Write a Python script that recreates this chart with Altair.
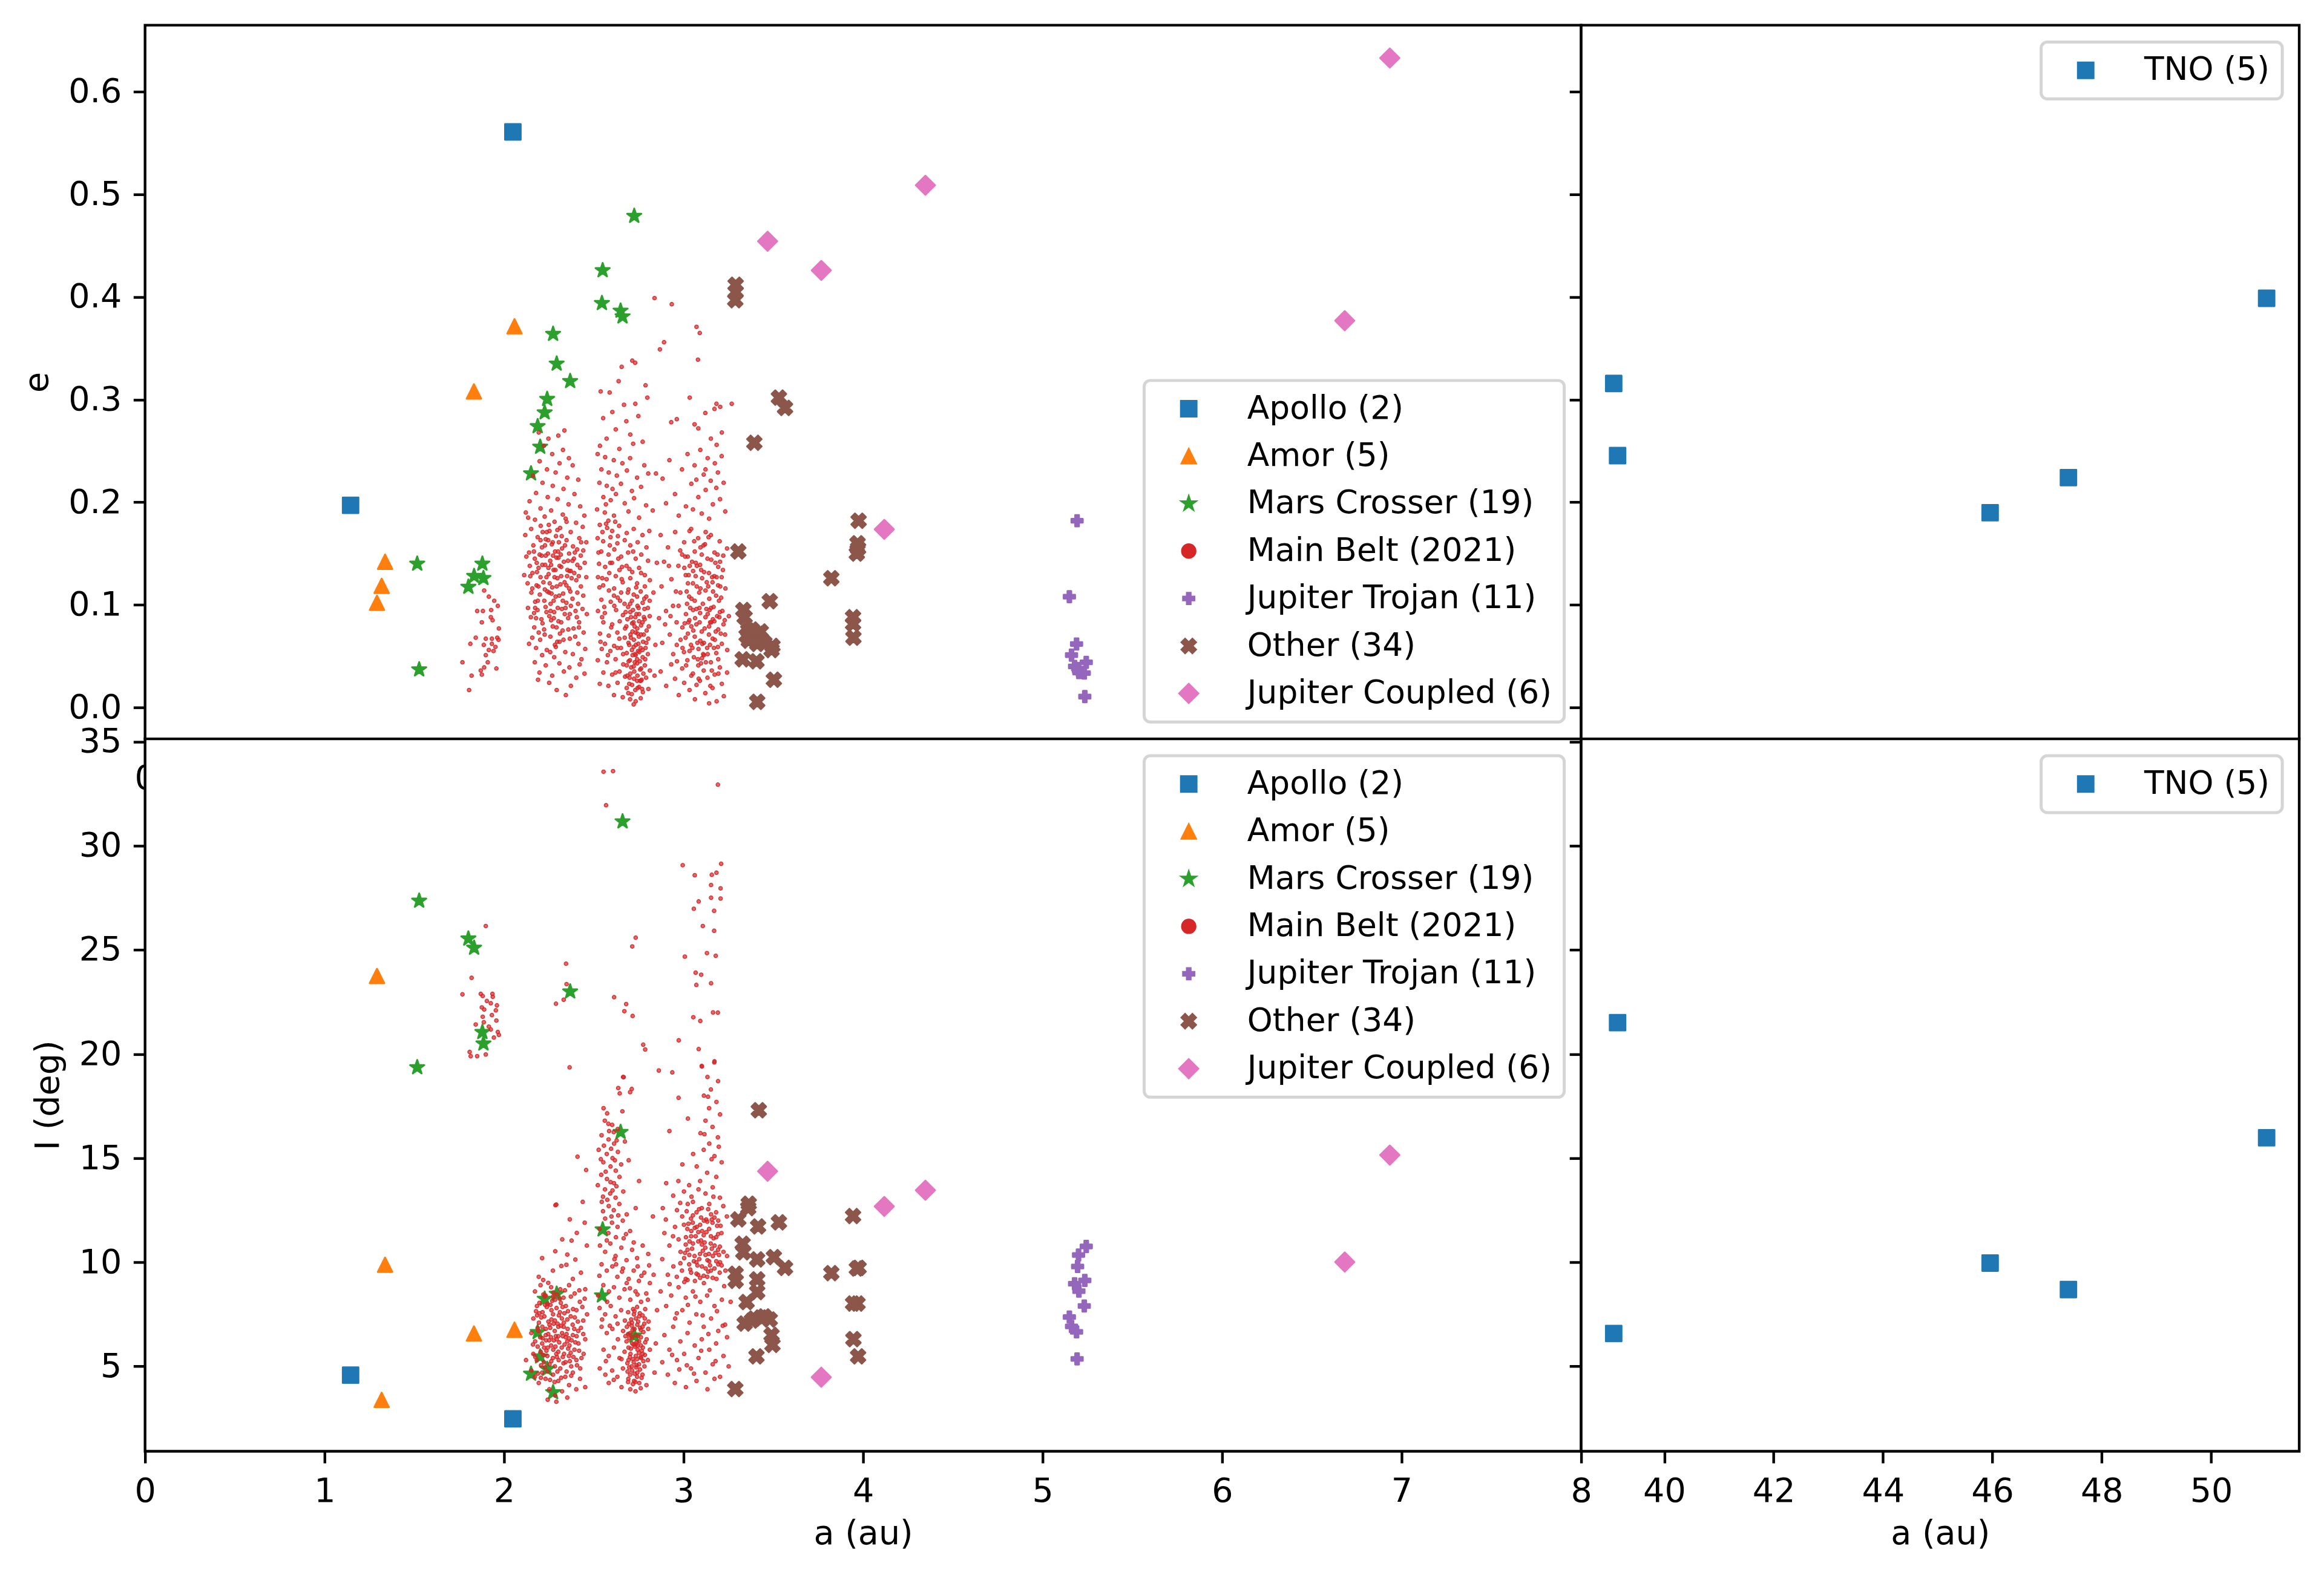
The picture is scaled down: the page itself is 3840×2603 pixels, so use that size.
import altair as alt
import pandas as pd

# ---------------------------------------------------------------- classes
INNER_CLASSES = ["Apollo (2)", "Amor (5)", "Mars Crosser (19)", "Main Belt (2021)",
                 "Jupiter Trojan (11)", "Other (34)", "Jupiter Coupled (6)"]
INNER_COLORS = ["#1f77b4", "#ff7f0e", "#2ca02c", "#d62728", "#9467bd", "#8c564b", "#e377c2"]
OUTER_CLASSES = ["TNO (5)"]
OUTER_COLORS = ["#1f77b4"]

# ---------------------------------------------------------------- orbital elements
apollo_a = [1.145, 2.049]
apollo_e = [0.197, 0.561]
apollo_i = [4.58, 2.48]

amor_a = [1.292, 1.318, 1.337, 1.832, 2.058]
amor_e = [0.102, 0.1185, 0.142, 0.308, 0.3715]
amor_i = [23.75, 3.39, 9.88, 6.58, 6.76]

mars_a = [1.516, 1.527, 1.801, 1.833, 1.879, 1.885, 2.150, 2.201, 2.187, 2.226,
          2.240, 2.368, 2.293, 2.273, 2.545, 2.549, 2.649, 2.660, 2.725]
mars_e = [0.140, 0.037, 0.1175, 0.128, 0.140, 0.126, 0.228, 0.254, 0.274, 0.2875,
          0.3006, 0.318, 0.335, 0.364, 0.394, 0.426, 0.3866, 0.381, 0.479]
mars_i = [19.36, 27.36, 25.54, 25.10, 21.05, 20.50, 4.64, 5.47, 6.64, 8.24,
          4.87, 23.00, 8.48, 3.75, 8.40, 11.57, 16.25, 31.17, 6.47]

trojan_a = [5.243, 5.235, 5.232, 5.200, 5.202, 5.195, 5.192, 5.189, 5.178, 5.161, 5.149]
trojan_e = [0.044, 0.0106, 0.0335, 0.0359, 0.034, 0.038, 0.182, 0.0618, 0.040, 0.051, 0.108]
trojan_i = [10.76, 9.13, 7.90, 10.35, 8.61, 9.80, 5.36, 6.66, 8.97, 6.92, 7.37]

other_a = [3.290, 3.290, 3.288, 3.305, 3.329, 3.333, 3.340, 3.351, 3.360, 3.363,
           3.394, 3.406, 3.410, 3.419, 3.415, 3.410, 3.410, 3.430, 3.480, 3.490,
           3.495, 3.503, 3.531, 3.565, 3.823, 3.975, 3.969, 3.972, 3.965, 3.944,
           3.944, 3.946, 3.380, 3.450]
other_e = [0.412, 0.405, 0.397, 0.152, 0.047, 0.095, 0.088, 0.070, 0.075, 0.065,
           0.258, 0.045, 0.0055, 0.068, 0.072, 0.062, 0.066, 0.074, 0.1036, 0.056,
           0.060, 0.027, 0.302, 0.292, 0.126, 0.182, 0.160, 0.155, 0.150, 0.088,
           0.0815, 0.068, 0.076, 0.063]
other_i = [9.45, 9.11, 3.91, 12.06, 10.89, 10.48, 7.06, 8.09, 12.60, 12.81,
           7.30, 5.48, 8.57, 17.30, 11.72, 10.14, 9.18, 7.35, 7.25, 6.51,
           6.03, 10.25, 11.92, 9.73, 9.48, 9.73, 8.02, 5.48, 9.70, 12.22,
           8.02, 6.31, 7.20, 7.40]

coupled_a = [3.468, 3.767, 4.118, 4.347, 6.683, 6.934]
coupled_e = [0.4544, 0.426, 0.1736, 0.509, 0.377, 0.633]
coupled_i = [14.37, 4.48, 12.68, 13.46, 10.01, 15.15]

tno_a = [39.075, 39.146, 45.958, 47.390, 51.014]
tno_e = [0.3158, 0.2455, 0.1898, 0.224, 0.3988]
tno_i = [6.58, 21.51, 9.96, 8.69, 15.98]

# main belt, semi-major axis vs eccentricity
belt_ae = [
    (1.889, .114), (1.915, .108), (1.945, .104), (1.965, .099), (1.850, .094), (1.882, .094),
    (1.928, .095), (1.926, .088), (1.936, .085), (1.876, .083), (1.971, .077), (1.842, .068),
    (1.812, .062), (1.898, .067), (1.932, .067), (1.962, .068), (1.969, .066), (1.887, .061),
    (1.932, .062), (1.952, .059), (1.915, .056), (1.941, .055), (1.898, .051), (1.768, .044),
    (1.909, .044), (1.870, .036), (1.889, .039), (1.957, .038), (1.876, .032), (1.819, .031),
    (1.805, .017),
    (2.193, .268), (2.247, .262), (2.302, .265), (2.336, .270), (2.221, .255), (2.328, .251),
    (2.268, .247), (2.361, .243), (2.198, .240), (2.309, .238), (2.382, .236), (2.239, .232),
    (2.287, .229), (2.161, .226), (2.352, .224), (2.413, .222), (2.214, .219), (2.271, .216),
    (2.331, .213), (2.178, .209), (2.392, .208), (2.243, .205), (2.298, .203), (2.142, .201),
    (2.359, .198), (2.424, .196), (2.203, .194), (2.262, .192), (2.121, .190), (2.327, .188),
    (2.447, .187), (2.134, .185), (2.172, .183), (2.226, .186), (2.281, .181), (2.343, .184),
    (2.401, .180), (2.438, .176), (2.151, .174), (2.204, .177), (2.253, .172), (2.312, .175),
    (2.371, .171), (2.118, .168), (2.187, .166), (2.232, .164), (2.289, .167), (2.348, .163),
    (2.419, .165), (2.458, .161), (2.163, .158), (2.211, .156), (2.266, .159), (2.323, .155),
    (2.384, .157), (2.441, .153), (2.139, .151), (2.244, .150), (2.301, .152), (2.362, .150),
    (2.407, .154), (2.124, .147), (2.171, .145), (2.209, .148), (2.257, .143), (2.292, .146),
    (2.333, .142), (2.389, .145), (2.449, .141), (2.143, .138), (2.192, .136), (2.229, .139),
    (2.276, .134), (2.318, .137), (2.371, .133), (2.423, .136), (2.112, .129), (2.158, .131),
    (2.203, .127), (2.248, .130), (2.297, .126), (2.351, .128), (2.402, .124), (2.458, .127),
    (2.131, .121), (2.181, .119), (2.219, .122), (2.268, .117), (2.314, .120), (2.362, .116),
    (2.428, .118), (2.152, .112), (2.199, .110), (2.241, .113), (2.287, .108), (2.329, .111),
    (2.381, .106), (2.441, .109), (2.173, .103), (2.259, .101), (2.347, .102), (2.133, .097),
    (2.186, .095), (2.231, .098), (2.279, .093), (2.322, .096), (2.398, .094), (2.461, .091),
    (2.149, .088), (2.208, .086), (2.252, .089), (2.303, .084), (2.357, .087), (2.418, .083),
    (2.168, .078), (2.223, .076), (2.271, .079), (2.326, .075), (2.387, .077), (2.443, .073),
    (2.157, .068), (2.201, .066), (2.258, .069), (2.309, .064), (2.366, .067), (2.414, .062),
    (2.178, .058), (2.238, .056), (2.288, .059), (2.341, .054), (2.452, .057), (2.212, .051),
    (2.279, .049), (2.383, .052), (2.139, .062), (2.431, .047), (2.171, .044), (2.232, .041),
    (2.308, .043), (2.364, .039), (2.421, .042), (2.197, .034), (2.268, .031), (2.333, .035),
    (2.402, .029), (2.251, .024), (2.372, .021), (2.448, .033), (2.293, .017), (2.189, .027),
    (2.344, .012), (2.215, .171), (2.262, .139), (2.305, .161), (2.347, .119), (2.236, .093),
    (2.284, .152), (2.318, .128), (2.276, .104), (2.227, .115), (2.356, .143), (2.198, .149),
    (2.338, .091), (2.249, .178), (2.293, .118), (2.372, .099), (2.183, .132), (2.262, .085),
    (2.311, .072), (2.228, .158), (2.391, .131), (2.254, .121), (2.307, .109), (2.167, .092),
    (2.412, .101), (2.286, .134),
    (2.182, .141), (2.236, .127), (2.297, .173), (2.353, .134), (2.408, .112), (2.173, .097),
    (2.264, .111), (2.318, .083), (2.376, .126), (2.214, .082), (2.339, .158), (2.283, .061),
    (2.396, .069), (2.157, .116), (2.246, .163), (2.309, .138), (2.366, .091), (2.224, .104),
    (2.273, .148), (2.427, .148), (2.193, .073), (2.257, .054), (2.331, .066), (2.417, .078),
    (2.299, .097),
    (2.166, .152), (2.191, .118), (2.213, .139), (2.238, .171), (2.259, .094), (2.281, .127),
    (2.303, .146), (2.327, .104), (2.348, .181), (2.369, .113), (2.394, .151), (2.416, .128),
    (2.437, .096), (2.178, .087), (2.203, .163), (2.226, .071), (2.247, .136), (2.271, .161),
    (2.292, .078), (2.316, .149), (2.337, .122), (2.358, .076), (2.381, .143), (2.405, .088),
    (2.429, .161), (2.146, .128), (2.188, .104), (2.232, .148), (2.277, .087), (2.321, .167),
    (2.364, .133), (2.408, .139), (2.251, .112), (2.296, .064), (2.342, .097),
    (2.588, .307), (2.638, .318), (2.655, .332), (2.714, .338), (2.730, .336), (2.668, .295),
    (2.731, .296), (2.788, .314), (2.798, .302), (2.538, .308), (2.552, .282), (2.603, .288),
    (2.681, .279), (2.748, .284), (2.622, .271), (2.703, .266), (2.571, .262), (2.772, .259),
    (2.534, .255), (2.642, .252), (2.719, .257), (2.521, .247), (2.563, .244), (2.611, .241),
    (2.659, .238), (2.702, .243), (2.781, .236), (2.542, .232), (2.583, .229), (2.628, .226),
    (2.684, .231), (2.741, .224), (2.803, .228), (2.531, .219), (2.572, .216), (2.604, .213),
    (2.651, .218), (2.712, .211), (2.763, .215), (2.553, .205), (2.594, .202), (2.623, .208),
    (2.672, .199), (2.724, .204), (2.791, .197), (2.518, .193), (2.561, .190), (2.612, .187),
    (2.693, .191), (2.752, .185), (2.581, .182), (2.533, .178), (2.574, .175), (2.602, .172),
    (2.641, .177), (2.683, .170), (2.722, .174), (2.771, .168), (2.809, .172), (2.521, .165),
    (2.552, .162), (2.593, .166), (2.631, .160), (2.672, .163), (2.703, .158), (2.744, .161),
    (2.793, .156), (2.541, .152), (2.582, .149), (2.614, .154), (2.652, .147), (2.691, .151),
    (2.733, .145), (2.764, .149), (2.802, .143), (2.529, .140), (2.563, .137), (2.601, .141),
    (2.643, .134), (2.682, .138), (2.714, .132), (2.752, .136), (2.784, .129), (2.523, .127),
    (2.571, .125), (2.622, .128), (2.661, .122), (2.703, .126), (2.741, .121), (2.552, .119),
    (2.812, .124), (2.531, .117), (2.584, .114), (2.613, .116), (2.652, .112), (2.693, .115),
    (2.722, .110), (2.761, .113), (2.792, .108), (2.542, .105), (2.594, .103), (2.633, .107),
    (2.671, .101), (2.712, .104), (2.743, .099), (2.772, .102), (2.801, .097), (2.523, .094),
    (2.561, .092), (2.624, .095), (2.662, .090), (2.703, .093), (2.731, .088), (2.752, .091),
    (2.783, .086), (2.811, .089), (2.553, .083), (2.602, .081), (2.644, .084), (2.681, .079),
    (2.713, .082), (2.742, .077), (2.763, .080), (2.794, .075), (2.534, .072), (2.583, .070),
    (2.631, .073), (2.672, .068), (2.704, .071), (2.723, .066), (2.751, .069), (2.774, .064),
    (2.803, .067), (2.562, .062), (2.613, .060), (2.693, .063), (2.734, .061), (2.715, .074),
    (2.744, .072), (2.761, .058), (2.782, .096), (2.544, .057), (2.592, .055), (2.651, .058),
    (2.683, .053), (2.712, .056), (2.733, .051), (2.753, .054), (2.772, .049), (2.801, .052),
    (2.522, .046), (2.573, .044), (2.621, .047), (2.664, .042), (2.694, .045), (2.722, .040),
    (2.741, .043), (2.763, .038), (2.784, .041), (2.812, .036), (2.553, .034), (2.602, .032),
    (2.643, .035), (2.674, .030), (2.703, .033), (2.724, .028), (2.743, .031), (2.762, .026),
    (2.791, .029), (2.533, .023), (2.581, .021), (2.632, .024), (2.683, .019), (2.713, .022),
    (2.731, .017), (2.752, .020), (2.773, .015), (2.804, .018), (2.612, .012), (2.661, .010),
    (2.702, .008), (2.733, .006), (2.761, .009), (2.722, .003), (2.692, .014), (2.741, .047),
    (2.697, .061), (2.727, .079), (2.756, .045), (2.778, .071), (2.708, .039), (2.738, .091),
    (2.766, .027), (2.716, .051), (2.748, .062), (2.788, .058), (2.687, .086), (2.725, .035),
    (2.771, .083), (2.702, .101), (2.744, .019), (2.619, .181), (2.567, .198), (2.589, .158),
    (2.636, .145), (2.548, .171),
    (2.683, .041), (2.706, .068), (2.729, .052), (2.752, .084), (2.776, .033), (2.697, .023),
    (2.718, .095), (2.741, .026), (2.763, .071), (2.786, .047), (2.674, .077), (2.711, .013),
    (2.733, .073), (2.758, .037), (2.781, .106), (2.691, .098), (2.746, .055), (2.769, .018),
    (2.722, .059), (2.701, .046), (2.586, .131), (2.614, .099), (2.546, .088), (2.632, .058),
    (2.657, .137),
    (2.526, .151), (2.547, .126), (2.568, .179), (2.591, .141), (2.612, .109), (2.634, .167),
    (2.655, .125), (2.677, .093), (2.698, .135), (2.719, .152), (2.741, .108), (2.763, .131),
    (2.784, .118), (2.806, .079), (2.558, .098), (2.597, .078), (2.621, .034), (2.642, .067),
    (2.663, .052), (2.686, .031), (2.707, .088), (2.728, .044), (2.749, .097), (2.771, .056),
    (2.792, .063), (2.811, .104), (2.537, .064), (2.578, .051), (2.646, .104), (2.689, .112),
    (2.736, .117), (2.757, .026), (2.779, .088), (2.699, .029), (2.721, .083),
    (2.832, .112), (2.843, .061), (2.828, .192), (2.851, .141), (2.838, .031), (2.846, .228),
    (2.931, .278), (2.962, .281), (3.061, .276), (3.082, .272), (3.121, .287), (3.172, .291),
    (3.183, .296), (3.204, .293), (3.034, .302), (3.268, .296), (3.152, .262), (3.213, .268),
    (2.883, .223), (2.921, .241), (2.952, .208), (2.991, .232), (3.022, .247), (3.043, .218),
    (3.061, .236), (3.082, .205), (3.093, .251), (3.112, .227), (3.123, .212), (3.134, .243),
    (3.151, .221), (3.163, .198), (3.174, .238), (3.182, .214), (3.191, .229), (3.203, .203),
    (3.212, .245), (3.223, .219), (3.101, .189), (3.142, .184), (3.052, .193), (2.973, .187),
    (3.013, .196), (3.232, .191), (2.902, .199), (3.184, .256), (3.071, .222), (3.122, .232),
    (2.872, .168), (2.891, .142), (2.913, .156), (2.932, .125), (2.953, .171), (2.971, .138),
    (2.982, .112), (3.003, .161), (3.012, .129), (3.023, .147), (3.031, .108), (3.042, .174),
    (3.053, .133), (3.062, .152), (3.073, .118), (3.081, .165), (3.092, .139), (3.103, .126),
    (3.111, .158), (3.122, .114), (3.133, .145), (3.141, .131), (3.152, .168), (3.161, .122),
    (3.172, .151), (3.181, .109), (3.193, .137), (3.201, .162), (3.212, .127), (3.221, .148),
    (3.233, .116), (3.242, .155), (2.992, .149), (3.033, .172), (3.062, .104), (3.094, .156),
    (3.123, .171), (3.143, .106), (3.171, .128), (3.203, .142), (3.154, .144), (3.101, .149),
    (3.052, .121), (3.004, .136), (3.192, .119), (2.863, .087), (2.881, .063), (2.902, .094),
    (2.923, .071), (2.942, .052), (2.961, .083), (2.972, .099), (2.983, .066), (2.993, .078),
    (3.002, .054), (3.013, .091), (3.024, .072), (3.032, .085), (3.041, .061), (3.053, .095),
    (3.062, .069), (3.071, .081), (3.083, .057), (3.092, .092), (3.101, .074), (3.113, .063),
    (3.122, .088), (3.131, .058), (3.142, .079), (3.153, .097), (3.162, .067), (3.171, .084),
    (3.182, .053), (3.193, .076), (3.202, .093), (3.213, .062), (3.222, .081), (3.231, .071),
    (3.243, .056), (3.252, .089), (3.011, .068), (3.043, .079), (3.072, .096), (3.113, .051),
    (3.134, .091), (3.163, .086), (3.191, .059), (3.033, .055), (3.093, .065), (3.141, .071),
    (2.872, .035), (2.903, .021), (2.931, .042), (2.952, .028), (2.973, .012), (2.992, .038),
    (3.003, .024), (3.021, .046), (3.033, .017), (3.052, .033), (3.063, .008), (3.082, .041),
    (3.091, .026), (3.112, .036), (3.121, .014), (3.133, .029), (3.152, .044), (3.161, .019),
    (3.173, .032), (3.184, .006), (3.202, .039), (3.213, .023), (3.224, .011), (3.242, .034),
    (3.193, .047), (3.102, .048), (3.043, .031), (2.963, .045), (3.142, .004), (3.072, .022),
    (3.017, .113), (3.047, .142), (3.077, .063), (3.107, .101), (3.137, .118), (3.167, .098),
    (3.197, .104), (3.027, .083), (3.057, .049), (3.087, .112), (3.117, .077), (3.147, .061),
    (3.177, .141), (3.207, .072), (3.067, .128), (3.127, .096), (3.187, .089), (3.157, .036),
    (3.097, .043), (3.037, .097),
    (3.014, .041), (3.044, .106), (3.074, .138), (3.104, .062), (3.134, .052), (3.164, .113),
    (3.194, .033), (3.024, .121), (3.054, .075), (3.084, .028), (3.114, .132), (3.144, .095),
    (3.174, .066), (3.204, .118), (3.034, .138), (3.064, .087), (3.094, .116), (3.124, .044),
    (3.154, .083), (3.184, .127), (3.216, .094), (2.994, .058), (3.119, .159), (3.089, .083),
    (3.149, .021),
    (2.877, .118), (2.897, .081), (2.918, .138), (2.941, .099), (2.962, .061), (2.981, .153),
    (3.006, .082), (3.028, .129), (3.049, .058), (3.068, .141), (3.088, .097), (3.109, .052),
    (3.129, .122), (3.148, .083), (3.169, .058), (3.189, .149), (3.209, .107), (3.229, .085),
    (3.019, .101), (3.059, .162), (3.098, .134), (3.139, .166), (3.179, .074), (3.219, .134),
    (2.927, .089), (2.957, .113), (3.009, .147), (3.079, .047), (3.159, .127), (3.199, .088),
    (2.838, .399), (2.934, .393), (3.072, .371), (2.891, .356), (3.080, .339), (2.868, .349),
    (3.090, .365), (3.290, .394),
]

# main belt, semi-major axis vs inclination (deg)
belt_ai = [
    (1.898, 26.15), (1.819, 23.66), (1.768, 22.87), (1.870, 22.89), (1.881, 22.79), (1.935, 22.89),
    (1.937, 22.75), (1.904, 22.55), (1.926, 22.44), (1.960, 22.34), (1.876, 22.24), (1.889, 22.14),
    (1.954, 22.10), (1.881, 21.79), (1.932, 21.87), (1.957, 21.61), (1.842, 21.42), (1.887, 21.53),
    (1.915, 21.32), (1.926, 21.18), (1.965, 21.06), (1.971, 20.92), (1.943, 20.79), (1.808, 20.10),
    (1.814, 19.90), (1.850, 19.90), (1.898, 19.98),
    (2.554, 33.56), (2.607, 33.59), (2.568, 31.95), (3.191, 32.94), (2.345, 24.34), (2.348, 23.36),
    (2.289, 22.42), (2.332, 22.61), (2.365, 19.36), (2.733, 25.59), (2.714, 25.17), (2.613, 22.73),
    (2.680, 22.40), (2.670, 22.06), (2.716, 21.83), (2.775, 20.45), (2.786, 20.22), (2.862, 19.21),
    (2.937, 19.12), (2.973, 20.66), (2.995, 29.07), (3.062, 28.59), (3.157, 28.61), (3.183, 28.71),
    (3.209, 29.14), (3.153, 28.12), (3.206, 27.96), (3.153, 27.51), (3.206, 27.47), (3.084, 27.33),
    (3.057, 26.98), (3.170, 26.88), (3.107, 26.15), (3.170, 25.92), (3.007, 24.68), (3.130, 24.85),
    (3.179, 24.72), (3.067, 23.91), (3.098, 23.81), (3.071, 23.32), (3.153, 23.40), (3.054, 21.77),
    (3.093, 21.59), (3.164, 22.00), (3.191, 21.99), (3.084, 20.24), (3.172, 19.65), (3.101, 19.43),
    (2.663, 18.90), (2.636, 18.37), (2.702, 18.17), (2.409, 15.07), (2.457, 14.43), (2.286, 12.74),
    (2.291, 12.77), (2.366, 12.06), (2.405, 11.41), (2.324, 11.10), (2.285, 10.53), (2.352, 10.37),
    (2.397, 10.13), (2.376, 11.04), (2.347, 9.88), (2.218, 9.15), (2.246, 9.01), (2.319, 9.82),
    (2.438, 12.90), (2.461, 10.80), (2.428, 9.50), (2.272, 9.60), (2.193, 9.30), (2.383, 9.20),
    (2.449, 11.90), (2.212, 10.20),
    (2.172, 8.6), (2.203, 8.9), (2.231, 8.4), (2.262, 8.8), (2.284, 8.2), (2.313, 8.7),
    (2.331, 8.3), (2.362, 8.9), (2.393, 8.5), (2.422, 8.1), (2.452, 8.7), (2.183, 7.9),
    (2.214, 7.6), (2.241, 8.0), (2.273, 7.5), (2.292, 7.8), (2.322, 7.3), (2.344, 7.9),
    (2.371, 7.4), (2.403, 7.7), (2.441, 7.2), (2.163, 7.3), (2.194, 7.1), (2.224, 7.4),
    (2.253, 7.0), (2.283, 7.2), (2.302, 6.9), (2.333, 7.1), (2.354, 6.8), (2.382, 7.0),
    (2.413, 6.7), (2.462, 7.5), (2.232, 6.8), (2.264, 7.7), (2.311, 7.6),
    (2.152, 6.6), (2.173, 6.2), (2.191, 6.7), (2.212, 6.1), (2.232, 6.5), (2.243, 5.9),
    (2.261, 6.4), (2.274, 5.8), (2.293, 6.3), (2.302, 5.7), (2.323, 6.6), (2.334, 5.6),
    (2.352, 6.2), (2.361, 5.5), (2.383, 6.5), (2.392, 5.8), (2.414, 6.1), (2.431, 5.4),
    (2.452, 6.3), (2.163, 5.6), (2.182, 5.3), (2.204, 5.7), (2.222, 5.2), (2.241, 5.5),
    (2.253, 5.1), (2.272, 5.4), (2.283, 5.0), (2.304, 5.3), (2.313, 4.9), (2.342, 5.2),
    (2.374, 5.0), (2.403, 5.3), (2.424, 4.9), (2.443, 5.6), (2.201, 6.4), (2.223, 5.9),
    (2.262, 6.0), (2.291, 5.6), (2.321, 5.9), (2.343, 6.4), (2.364, 6.0), (2.391, 6.8),
    (2.213, 6.9), (2.282, 6.7), (2.332, 6.9),
    (2.152, 4.8), (2.171, 4.5), (2.193, 4.2), (2.212, 4.7), (2.231, 4.4), (2.252, 3.9),
    (2.273, 4.6), (2.284, 3.6), (2.302, 4.3), (2.323, 3.8), (2.341, 4.5), (2.362, 4.1),
    (2.383, 4.7), (2.402, 3.9), (2.423, 4.4), (2.452, 4.0), (2.243, 3.4), (2.291, 3.3),
    (2.352, 3.5), (2.122, 5.3),
    (2.207, 7.35), (2.246, 6.55), (2.268, 8.15), (2.298, 7.05), (2.327, 5.45), (2.356, 7.65),
    (2.187, 5.95), (2.238, 7.85), (2.277, 6.25), (2.316, 8.05), (2.348, 6.55), (2.228, 4.95),
    (2.257, 6.85), (2.297, 4.75), (2.366, 5.25), (2.197, 8.05), (2.336, 7.55), (2.376, 6.25),
    (2.218, 5.55), (2.307, 6.15),
    (2.187, 6.85), (2.226, 8.35), (2.263, 5.25), (2.296, 8.45), (2.337, 6.05), (2.372, 8.35),
    (2.404, 6.45), (2.436, 7.85), (2.205, 4.45), (2.247, 7.15), (2.288, 6.45), (2.318, 4.45),
    (2.357, 5.85), (2.394, 7.35), (2.178, 7.65), (2.236, 5.75), (2.276, 7.05), (2.326, 7.85),
    (2.348, 4.75), (2.418, 5.75), (2.256, 4.35), (2.305, 7.45), (2.214, 6.35), (2.386, 5.45),
    (2.276, 8.55),
    (2.161, 6.05), (2.184, 7.45), (2.206, 5.05), (2.229, 7.95), (2.251, 6.25), (2.273, 8.35),
    (2.294, 5.45), (2.317, 6.95), (2.339, 8.65), (2.361, 6.35), (2.384, 7.75), (2.406, 5.05),
    (2.428, 6.85), (2.449, 8.25), (2.174, 5.45), (2.197, 7.55), (2.219, 8.45), (2.242, 4.75),
    (2.264, 7.25), (2.286, 5.95), (2.309, 8.25), (2.331, 5.15), (2.352, 7.25), (2.374, 4.55),
    (2.397, 6.15), (2.419, 8.65), (2.441, 6.55), (2.188, 4.65), (2.234, 6.25), (2.281, 4.25),
    (2.327, 6.45), (2.371, 5.65), (2.411, 7.15), (2.258, 7.95), (2.302, 6.45),
    (2.554, 17.40), (2.574, 17.15), (2.644, 18.11), (2.666, 18.89), (2.711, 18.32), (2.561, 16.8),
    (2.602, 16.6), (2.633, 16.4), (2.543, 16.1), (2.582, 15.9), (2.613, 15.7), (2.527, 15.4),
    (2.572, 15.2), (2.604, 15.0), (2.634, 15.3), (2.553, 14.8), (2.593, 14.6), (2.622, 14.4),
    (2.652, 14.7), (2.541, 14.2), (2.573, 14.0), (2.612, 13.8), (2.643, 14.1), (2.562, 13.5),
    (2.591, 13.3), (2.621, 13.1), (2.664, 13.4), (2.544, 12.9), (2.583, 12.7), (2.611, 12.5),
    (2.642, 12.8), (2.683, 12.3), (2.563, 12.1), (2.601, 11.9), (2.632, 11.7), (2.661, 12.0),
    (2.532, 11.6), (2.581, 11.4), (2.623, 11.2), (2.702, 11.5), (2.733, 12.6), (2.752, 13.9),
    (2.694, 14.9), (2.673, 15.8), (2.522, 13.7), (2.585, 16.3), (2.556, 15.6), (2.617, 14.9),
    (2.575, 13.0), (2.598, 12.2),
    (2.534, 10.8), (2.563, 10.5), (2.592, 10.9), (2.621, 10.3), (2.653, 10.7), (2.682, 10.1),
    (2.713, 10.6), (2.741, 10.2), (2.772, 10.8), (2.803, 10.4), (2.543, 9.9), (2.572, 9.6),
    (2.603, 9.8), (2.631, 9.3), (2.662, 9.7), (2.694, 9.2), (2.722, 9.6), (2.751, 9.1),
    (2.781, 9.5), (2.812, 9.0), (2.553, 8.9), (2.584, 8.6), (2.612, 8.8), (2.642, 8.3),
    (2.671, 8.7), (2.703, 8.2), (2.732, 8.6), (2.763, 8.1), (2.792, 8.5), (2.524, 8.4),
    (2.624, 9.9), (2.683, 9.0), (2.744, 9.8), (2.801, 8.2), (2.574, 8.1),
    (2.532, 7.8), (2.563, 7.5), (2.594, 7.9), (2.621, 7.4), (2.652, 7.7), (2.673, 7.2),
    (2.691, 7.6), (2.712, 7.1), (2.723, 7.5), (2.742, 7.0), (2.753, 7.4), (2.771, 6.9),
    (2.784, 7.3), (2.803, 6.8), (2.543, 6.9), (2.572, 6.6), (2.603, 6.8), (2.634, 6.3),
    (2.663, 6.7), (2.682, 6.2), (2.702, 6.6), (2.714, 6.1), (2.733, 6.5), (2.744, 6.0),
    (2.762, 6.4), (2.773, 5.9), (2.794, 6.3), (2.812, 5.8), (2.554, 5.8), (2.583, 5.5),
    (2.612, 5.9), (2.643, 5.4), (2.671, 5.7), (2.693, 5.3), (2.704, 5.6), (2.722, 5.2),
    (2.734, 5.5), (2.751, 5.1), (2.763, 5.4), (2.782, 5.0), (2.801, 5.3), (2.533, 4.9),
    (2.564, 4.6), (2.602, 4.8), (2.631, 4.5), (2.662, 4.9), (2.692, 4.4), (2.713, 4.8),
    (2.724, 4.3), (2.742, 4.7), (2.753, 4.2), (2.771, 4.6), (2.793, 4.1), (2.583, 4.2),
    (2.654, 4.0), (2.703, 3.9), (2.732, 3.8), (2.761, 3.95), (2.684, 6.9), (2.726, 6.8),
    (2.744, 5.8), (2.711, 5.0), (2.762, 6.0), (2.693, 5.9), (2.734, 7.3), (2.752, 6.2),
    (2.702, 4.6), (2.772, 5.6), (2.741, 4.5), (2.713, 6.4),
    (2.698, 6.35), (2.717, 5.35), (2.737, 6.15), (2.757, 4.85), (2.776, 6.65), (2.687, 5.15),
    (2.727, 4.65), (2.747, 7.15), (2.767, 5.75), (2.708, 7.25), (2.728, 5.95), (2.718, 4.15),
    (2.758, 6.85), (2.688, 4.75), (2.738, 5.05),
    (2.696, 7.05), (2.716, 6.75), (2.736, 4.95), (2.756, 7.55), (2.776, 5.25), (2.706, 5.85),
    (2.726, 7.65), (2.746, 6.45), (2.766, 4.45), (2.786, 6.15), (2.691, 4.25), (2.721, 6.05),
    (2.741, 7.85), (2.761, 5.45), (2.781, 7.05), (2.701, 5.45), (2.731, 4.25), (2.751, 5.65),
    (2.771, 7.45), (2.711, 6.95), (2.566, 14.35), (2.596, 15.45), (2.626, 13.65), (2.551, 13.15),
    (2.611, 16.25),
    (2.531, 9.35), (2.551, 12.45), (2.572, 11.05), (2.593, 13.85), (2.615, 10.15), (2.636, 12.25),
    (2.657, 9.55), (2.679, 11.35), (2.701, 8.75), (2.722, 10.95), (2.743, 8.45), (2.765, 9.35),
    (2.786, 7.75), (2.808, 9.85), (2.546, 7.25), (2.567, 5.25), (2.589, 6.95), (2.611, 4.35),
    (2.632, 7.05), (2.654, 5.35), (2.676, 6.45), (2.697, 4.95), (2.719, 7.75), (2.741, 5.35),
    (2.762, 6.75), (2.784, 5.55), (2.805, 7.15), (2.539, 14.95), (2.581, 16.65), (2.627, 15.85),
    (2.659, 17.25), (2.604, 13.45), (2.666, 11.15), (2.691, 6.55), (2.733, 6.05),
    (2.833, 9.4), (2.845, 6.1), (2.829, 12.2), (2.852, 7.7), (2.838, 4.7),
    (3.102, 19.4), (3.171, 19.6), (3.133, 18.9), (3.192, 18.7), (3.152, 18.3), (3.113, 18.0),
    (3.183, 17.7), (3.142, 17.4), (3.203, 17.1), (3.122, 16.8), (3.161, 16.5), (3.094, 16.2),
    (3.191, 16.0), (3.143, 15.7), (3.112, 15.4), (3.172, 15.1), (3.212, 14.8), (3.073, 14.6),
    (3.131, 14.3), (3.182, 14.1), (2.972, 17.9), (3.024, 16.9), (2.921, 16.3), (3.053, 15.2),
    (2.993, 14.7),
    (2.903, 13.8), (2.942, 13.2), (2.971, 13.9), (3.002, 13.4), (3.031, 13.7), (3.052, 12.9),
    (3.083, 13.5), (3.101, 12.6), (3.122, 13.3), (3.143, 12.8), (3.162, 13.6), (3.181, 12.4),
    (3.202, 13.1), (3.221, 12.7), (2.963, 12.5), (2.992, 12.2), (3.023, 12.8), (3.041, 12.1),
    (3.072, 12.4), (3.113, 12.0), (3.153, 12.3), (3.193, 12.0), (2.884, 12.6), (3.241, 12.2),
    (3.092, 13.9),
    (2.893, 11.4), (2.921, 10.8), (2.952, 11.7), (2.972, 11.1), (2.983, 10.5), (3.002, 11.8),
    (3.013, 11.2), (3.022, 10.6), (3.031, 9.9), (3.043, 11.5), (3.052, 10.9), (3.061, 10.3),
    (3.073, 11.7), (3.082, 11.0), (3.091, 10.4), (3.102, 9.8), (3.112, 11.3), (3.121, 10.7),
    (3.133, 10.1), (3.142, 11.6), (3.151, 10.9), (3.163, 10.3), (3.172, 9.7), (3.181, 11.2),
    (3.192, 10.6), (3.203, 10.0), (3.211, 11.4), (3.222, 10.5), (3.233, 9.6), (2.943, 9.8),
    (2.962, 9.3), (2.991, 9.6), (3.012, 9.2), (3.042, 9.5), (3.063, 9.1), (3.081, 9.4),
    (3.113, 9.0), (3.132, 9.3), (3.152, 9.6), (3.183, 9.2), (3.201, 9.5), (3.242, 10.3),
    (2.912, 9.4), (3.003, 10.2), (3.033, 11.0), (3.071, 10.0), (3.103, 11.5), (3.123, 9.7),
    (3.141, 10.4), (3.173, 10.8), (3.193, 9.9), (3.051, 11.9), (3.092, 11.8), (3.161, 11.9),
    (3.021, 11.6),
    (2.872, 8.6), (2.903, 7.9), (2.931, 8.4), (2.953, 7.3), (2.972, 8.8), (2.993, 7.7),
    (3.012, 8.3), (3.033, 7.1), (3.052, 8.6), (3.071, 7.5), (3.093, 8.1), (3.112, 6.9),
    (3.131, 8.4), (3.153, 7.3), (3.172, 7.9), (3.193, 6.7), (3.213, 8.2), (3.231, 7.0),
    (2.893, 6.5), (2.921, 5.8), (2.942, 6.9), (2.963, 5.3), (2.982, 6.2), (3.003, 5.6),
    (3.022, 6.6), (3.041, 4.9), (3.062, 6.0), (3.083, 5.4), (3.101, 6.3), (3.122, 4.7),
    (3.143, 5.8), (3.162, 5.1), (3.181, 6.1), (3.203, 4.5), (3.222, 5.5), (3.242, 6.4),
    (2.912, 4.6), (2.951, 4.2), (3.013, 4.0), (3.072, 4.3), (3.133, 3.9), (3.172, 4.4),
    (2.881, 5.2), (3.262, 8.1), (3.251, 5.0),
    (3.008, 10.45), (3.037, 9.65), (3.067, 11.25), (3.087, 10.15), (3.117, 10.95), (3.147, 9.85),
    (3.177, 10.45), (3.027, 11.85), (3.057, 10.05), (3.097, 12.15), (3.127, 11.45), (3.157, 12.05),
    (3.187, 11.75), (3.047, 10.65), (3.077, 9.85), (3.107, 10.55), (3.137, 9.55), (3.167, 11.15),
    (3.197, 10.35), (3.017, 12.45),
    (3.012, 10.85), (3.042, 11.25), (3.072, 9.45), (3.102, 10.85), (3.132, 11.95), (3.162, 9.25),
    (3.192, 11.35), (3.022, 9.15), (3.052, 12.25), (3.082, 11.45), (3.112, 9.35), (3.142, 10.05),
    (3.172, 12.15), (3.202, 10.75), (3.032, 10.35), (3.062, 11.65), (3.092, 9.25), (3.122, 10.35),
    (3.152, 11.25), (3.182, 10.05), (3.212, 9.85), (2.982, 9.95), (3.137, 12.55), (3.097, 11.05),
    (3.157, 10.65),
    (2.881, 10.15), (2.901, 12.05), (2.922, 8.95), (2.941, 11.25), (2.962, 7.55), (2.981, 12.85),
    (3.004, 9.05), (3.024, 7.95), (3.044, 13.15), (3.066, 8.35), (3.086, 12.55), (3.106, 7.45),
    (3.126, 12.05), (3.146, 8.65), (3.166, 13.15), (3.186, 7.65), (3.206, 11.75), (3.226, 8.85),
    (3.018, 5.05), (3.058, 4.65), (3.098, 5.75), (3.138, 6.55), (3.178, 5.25), (3.218, 6.95),
    (2.936, 5.55), (2.976, 4.85), (3.116, 16.15), (3.156, 14.95), (3.196, 15.55), (3.136, 17.95),
]

# ---------------------------------------------------------------- marker shapes (unit box)
# each marker also gets a thin edge of its own colour, so the paths sit a bit inside
SQUARE = "M-0.733,-0.733H0.733V0.733H-0.733Z"
TRIANGLE = "M0,-0.68L0.68,0.68L-0.68,0.68Z"
STAR = ("M0,-0.7L0.158,-0.217L0.666,-0.216L0.255,0.083L0.411,0.566L0,0.268"
        "L-0.411,0.566L-0.255,0.083L-0.666,-0.216L-0.158,-0.217Z")
CIRCLE = "M0.633,0A0.633,0.633,0,1,1,-0.633,0A0.633,0.633,0,1,1,0.633,0Z"
PLUS = ("M-0.178,-0.533H0.178V-0.178H0.533V0.178H0.178V0.533H-0.178V0.178"
        "H-0.533V-0.178H-0.178Z")
XMARK = ("M-0.341,0.683L0,0.342L0.341,0.683L0.683,0.341L0.342,0L0.683,-0.341"
         "L0.341,-0.683L0,-0.342L-0.341,-0.683L-0.683,-0.341L-0.342,0L-0.683,0.341Z")
DIAMOND = "M0,-0.9L0.9,0L0,0.9L-0.9,0Z"
INNER_SHAPES = [SQUARE, TRIANGLE, STAR, CIRCLE, PLUS, XMARK, DIAMOND]
OUTER_SHAPES = [SQUARE]

MARKER_AREA = 1250
BELT_AREA = 96
EDGE = 3
FONT = "DejaVu Sans"
FS = 55.6
LEGEND_FS = 53.5


def frame(cls, a, y):
    return pd.DataFrame({"a": list(a), "y": list(y), "cls": cls})


def styled(df):
    belt = df["cls"] == "Main Belt (2021)"
    df = df.copy()
    df["sz"] = belt.map({True: BELT_AREA, False: MARKER_AREA})
    df["fo"] = belt.map({True: 0.7, False: 1.0})
    df["sw"] = belt.map({True: 1.3, False: EDGE})
    df["so"] = belt.map({True: 0.95, False: 1.0})
    return df


def inner_frame(y_apollo, y_amor, y_mars, belt, y_trojan, y_other, y_coupled):
    return styled(pd.concat([
        frame("Apollo (2)", apollo_a, y_apollo),
        frame("Amor (5)", amor_a, y_amor),
        frame("Mars Crosser (19)", mars_a, y_mars),
        frame("Main Belt (2021)", [p[0] for p in belt], [p[1] for p in belt]),
        frame("Jupiter Trojan (11)", trojan_a, y_trojan),
        frame("Other (34)", other_a, y_other),
        frame("Jupiter Coupled (6)", coupled_a, y_coupled),
    ], ignore_index=True))


top_inner = inner_frame(apollo_e, amor_e, mars_e, belt_ae, trojan_e, other_e, coupled_e)
bottom_inner = inner_frame(apollo_i, amor_i, mars_i, belt_ai, trojan_i, other_i, coupled_i)
top_outer = styled(frame("TNO (5)", tno_a, tno_e))
bottom_outer = styled(frame("TNO (5)", tno_a, tno_i))

E_DOMAIN = [-0.0306, 0.665]
I_DOMAIN = [0.92, 35.14]
E_TICKS = [0.0, 0.1, 0.2, 0.3, 0.4, 0.5, 0.6]
I_TICKS = [5, 10, 15, 20, 25, 30, 35]
INNER_X = [0, 8]
OUTER_X = [38.48, 51.61]
INNER_TICKS = [0, 1, 2, 3, 4, 5, 6, 7, 8]
OUTER_TICKS = [40, 42, 44, 46, 48, 50]


def panel(df, classes, colors, shapes, xdom, x_axis, ydom, yticks, yfmt,
          ytitle, ylabels, legend_orient, w, h):
    leg = alt.Legend(title=None, orient=legend_orient, offset=28, padding=20,
                     symbolOffset=27, labelOffset=70, rowPadding=23.5,
                     labelFont=FONT, labelFontSize=LEGEND_FS, labelColor="black",
                     labelLimit=3000, symbolSize=MARKER_AREA, symbolStrokeWidth=EDGE,
                     symbolOpacity=1, strokeColor="#d5d5d5",
                     fillColor="rgba(255,255,255,0.8)", cornerRadius=10)
    y_axis = alt.Axis(values=yticks, format=yfmt, labels=ylabels, title=ytitle)
    return alt.Chart(df).mark_point(filled=True, opacity=1, strokeJoin="round").encode(
        x=alt.X("a:Q", scale=alt.Scale(domain=xdom, nice=False, zero=False), axis=x_axis),
        y=alt.Y("y:Q", scale=alt.Scale(domain=ydom, nice=False, zero=False), axis=y_axis),
        color=alt.Color("cls:N", scale=alt.Scale(domain=classes, range=colors), legend=leg),
        shape=alt.Shape("cls:N", scale=alt.Scale(domain=classes, range=shapes), legend=leg),
        stroke=alt.Stroke("cls:N", scale=alt.Scale(domain=classes, range=colors), legend=leg),
        size=alt.Size("sz:Q", scale=None),
        fillOpacity=alt.FillOpacity("fo:Q", scale=None),
        strokeWidth=alt.StrokeWidth("sw:Q", scale=None),
        strokeOpacity=alt.StrokeOpacity("so:Q", scale=None),
    ).properties(width=w, height=h)


W_IN, W_OUT = 2376, 1188
H_TOP, H_BOT = 1181, 1179

# the upper panels share their a-axis with the lower ones; only the first
# label peeks out from under the lower panels
top_in_x = alt.Axis(values=[0], format="d", labelFlush=False, title=None)
top_out_x = alt.Axis(values=OUTER_TICKS, labels=False, ticks=False, title=None)
bot_in_x = alt.Axis(values=INNER_TICKS, format="d", labelFlush=False, title="a (au)",
                    titlePadding=15)
bot_out_x = alt.Axis(values=OUTER_TICKS, format="d", labelFlush=False, title="a (au)",
                     titlePadding=15)

tl = panel(top_inner, INNER_CLASSES, INNER_COLORS, INNER_SHAPES, INNER_X, top_in_x,
           E_DOMAIN, E_TICKS, ".1f", "e", True, "bottom-right", W_IN, H_TOP)
tr = panel(top_outer, OUTER_CLASSES, OUTER_COLORS, OUTER_SHAPES, OUTER_X, top_out_x,
           E_DOMAIN, E_TICKS, ".1f", None, False, "top-right", W_OUT, H_TOP)
bl = panel(bottom_inner, INNER_CLASSES, INNER_COLORS, INNER_SHAPES, INNER_X, bot_in_x,
           I_DOMAIN, I_TICKS, "d", "I (deg)", True, "top-right", W_IN, H_BOT)
br = panel(bottom_outer, OUTER_CLASSES, OUTER_COLORS, OUTER_SHAPES, OUTER_X, bot_out_x,
           I_DOMAIN, I_TICKS, "d", None, False, "top-right", W_OUT, H_BOT)

chart = (
    alt.concat(tl, tr, bl, br, columns=2, spacing=0, bounds="flush", align="each")
    .resolve_scale(color="independent", shape="independent", stroke="independent")
    .properties(padding={"left": 32, "top": 37, "right": 38, "bottom": 31},
                background="white")
    .configure_view(stroke="black", strokeWidth=4.4, fill="white")
    .configure_axis(labelFont=FONT, labelFontSize=FS, labelColor="black",
                    titleFont=FONT, titleFontSize=FS, titleFontWeight="normal",
                    titleColor="black", tickColor="black", tickSize=19.4,
                    tickWidth=4.4, labelPadding=19.4, titlePadding=22,
                    domain=False, grid=False)
    .configure_legend(strokeWidth=5)
)

chart.save("out.html", embed_options={"renderer": "svg", "actions": False})
